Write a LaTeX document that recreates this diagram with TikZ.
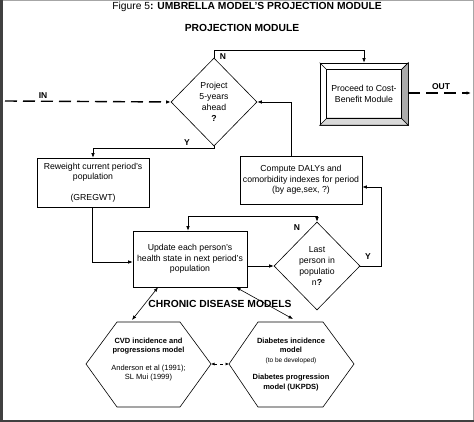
\documentclass[tikz,border=0pt]{standalone}
\usepackage{fontspec}
\setmainfont{Liberation Sans}
\usetikzlibrary{shapes,calc,positioning,arrows.meta}

\begin{document}
\begin{tikzpicture}[x=1pt, y=-1pt, >={Latex[length=4.5pt,width=3.5pt]},
	line width=0.6pt,
	box/.style={draw, rectangle, inner sep=0pt, align=center, font=\fontsize{8.7}{10.5}\selectfont},
	decision/.style={draw, diamond, inner sep=0pt, minimum width=86pt, minimum height=88pt, align=center, font=\fontsize{8.7}{11}\selectfont},
	hextext/.style={align=center, font=\fontsize{7.5}{9.5}\selectfont},
	flag/.style={font=\bfseries\fontsize{8.5}{9}\selectfont},
	io/.style={->, dashed, line width=1.4pt, dash pattern=on 12pt off 6pt}]
	\useasboundingbox (0,0) rectangle (474,422);
	\draw[color=gray!70, line width=1.5pt] (0.75,0.75) rectangle (473.25,421.25);
	\draw[color=black!75, line width=2.5pt] (1.25,0) -- (1.25,420.75) -- (474,420.75);
	\node[font=\fontsize{10.3}{12}\selectfont] (title) at (247,7) {Figure 5\textbf{: UMBRELLA MODEL'S PROJECTION MODULE}};
	\node[font=\bfseries\fontsize{10.3}{12}\selectfont] (module) at (242,28) {PROJECTION MODULE};
	% top row
	\node[decision] (ahead) at (214,102) {Project\\5-years\\ahead\\\textbf{?}};
	\node[box, minimum width=88pt, minimum height=62pt] (proceed) at (364,94) {Proceed to Cost-\\Benefit Module};
	\fill[gray!65, draw=black] (proceed.north east) -- (proceed.south east) -- ($(proceed.south east)+(-7,-7)$) -- ($(proceed.north east)+(-7,7)$) -- cycle;
	\fill[gray!30, draw=black] (proceed.south west) -- (proceed.south east) -- ($(proceed.south east)+(-7,-7)$) -- ($(proceed.south west)+(7,-7)$) -- cycle;
	\draw ($(proceed.north west)+(7,7)$) rectangle ($(proceed.south east)+(-7,-7)$);
	\draw (proceed.north west) -- ($(proceed.north west)+(7,7)$);
	\draw (proceed.north east) -- ($(proceed.north east)+(-7,7)$);
	\coordinate (in) at (5,101);
	\coordinate (out) at (471,93);
	\draw[io] (in) -- (ahead.west);
	\draw[io] ([yshift=1pt]proceed.east) -- (out);
	\node[flag] at (43,96) {IN};
	\node[flag] at (441,87) {OUT};
	\draw[->] (ahead.north) -- ++(0,-7) -| (proceed.north);
	\node[flag] at (223,57) {N};
	% middle row
	\node[box, minimum width=112pt, minimum height=49pt] (reweight) at (93,182.5) {Reweight current period's\\population\\[10.5pt](GREGWT)};
	\node[box, minimum width=122pt, minimum height=48pt] (dalys) at (301,180) {Compute DALYs and\\comorbidity indexes for period\\(by age,sex, ?)};
	\draw[->] (ahead.south) -- ++(0,2) -| (reweight.north);
	\node[flag] at (187,143) {Y};
	\draw[->] ([xshift=-10pt]dalys.north) |- (ahead.east);
	% lower row
	\node[box, minimum width=114pt, minimum height=56pt] (update) at (190,259) {Update each person's\\health state in next period's\\population};
	\node[decision] (last) at (317,266) {Last\\person in\\populatio\\n\textbf{?}};
	\draw[->] ([xshift=-1pt]reweight.south) |- ([yshift=-3pt]update.west);
	\draw[->] (update.east |- last.west) -- (last.west);
	\draw[<->] ([xshift=-2pt]update.north) -- ++(0,-14) -| (last.north);
	\node[flag] at (297,228) {N};
	\draw[->] (last.east) -- ++(21,0) |- ([yshift=-7pt]dalys.east);
	\node[flag] at (368,257) {Y};
	% chronic disease models
	\node[font=\bfseries\fontsize{10.3}{12}\selectfont] (chronic) at (220,304) {CHRONIC DISEASE MODELS};
	\draw (86,364) -- (117,322) -- (180,322) -- (211,364) -- (180,407) -- (117,407) -- cycle;
	\draw (229,364) -- (258,322) -- (323,322) -- (354,364) -- (323,407) -- (258,407) -- cycle;
	\node[hextext] (cvd) at (148.5,359.5) {\textbf{CVD incidence and}\\\textbf{progressions model}\\[8pt]Anderson et al (1991);\\SL Mui (1999)};
	\node[hextext] (diabetes) at (291,364.5) {\textbf{Diabetes incidence}\\\textbf{model}\\{\fontsize{6.5}{7}\selectfont(to be developed)}\\[8pt]\textbf{Diabetes progression}\\\textbf{model (UKPDS)}};
	\coordinate (cvdtop) at (132,320);
	\coordinate (diabtop) at (293,319);
	\coordinate (cvdright) at (211,364);
	\coordinate (diableft) at (229,364);
	\draw[<->] ([xshift=-32pt]update.south) -- (cvdtop);
	\draw[<->] ([xshift=46pt]update.south) -- (diabtop);
	\draw[<->, dashed, >={Latex[length=3.5pt,width=3pt]}] (cvdright) -- (diableft);
\end{tikzpicture}
\end{document}
